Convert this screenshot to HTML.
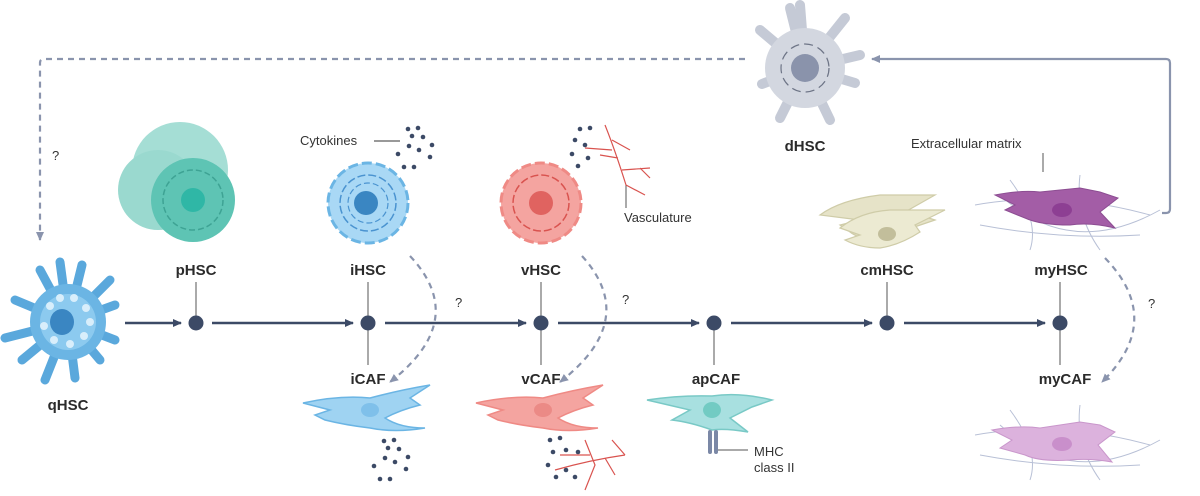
<!DOCTYPE html>
<html><head><meta charset="utf-8"><style>
html,body{margin:0;padding:0;background:#fff;}
svg{display:block;}
text{font-family:"Liberation Sans",sans-serif;}
.b{font-weight:bold;font-size:15px;fill:#2b2b2b;text-anchor:middle;}
.t{font-size:13px;fill:#333;}
</style></head><body>
<svg width="1200" height="496" viewBox="0 0 1200 496" xmlns="http://www.w3.org/2000/svg">
<defs>
<marker id="ah" markerWidth="10" markerHeight="10" refX="8" refY="5" orient="auto" markerUnits="userSpaceOnUse"><path d="M0,1 L9,5 L0,9 Z" fill="#3c4a66"/></marker>
<marker id="ag" markerWidth="10" markerHeight="10" refX="8" refY="5" orient="auto" markerUnits="userSpaceOnUse"><path d="M0,1 L9,5 L0,9 Z" fill="#8a94ad"/></marker>
</defs>

<path d="M745,59 L44,59 Q40,59 40,63 L40,240" fill="none" stroke="#8a94ad" stroke-width="2.2" stroke-dasharray="6,5" marker-end="url(#ag)"/>
<text x="52" y="160" class="t">?</text>
<path d="M1162,213 L1166,213 Q1170,213 1170,209 L1170,63 Q1170,59 1166,59 L872,59" fill="none" stroke="#8a94ad" stroke-width="2.2" marker-end="url(#ag)"/>

<g stroke="#3c4a66" stroke-width="2.5" fill="none" marker-end="url(#ah)">
<line x1="125" y1="323" x2="181" y2="323"/>
<line x1="212" y1="323" x2="353" y2="323"/>
<line x1="385" y1="323" x2="526" y2="323"/>
<line x1="558" y1="323" x2="699" y2="323"/>
<line x1="731" y1="323" x2="872" y2="323"/>
<line x1="904" y1="323" x2="1045" y2="323"/>
</g>
<g stroke="#555" stroke-width="1">
<line x1="196" y1="282" x2="196" y2="316"/>
<line x1="368" y1="282" x2="368" y2="365"/>
<line x1="541" y1="282" x2="541" y2="365"/>
<line x1="714" y1="323" x2="714" y2="365"/>
<line x1="887" y1="282" x2="887" y2="316"/>
<line x1="1060" y1="282" x2="1060" y2="365"/>
</g>
<g fill="#3c4a66">
<circle cx="196" cy="323" r="7.5"/><circle cx="368" cy="323" r="7.5"/><circle cx="541" cy="323" r="7.5"/>
<circle cx="714" cy="323" r="7.5"/><circle cx="887" cy="323" r="7.5"/><circle cx="1060" cy="323" r="7.5"/>
</g>

<g fill="none" stroke="#8a94ad" stroke-width="2.2" stroke-dasharray="6,5" marker-end="url(#ag)">
<path d="M410,256 Q470,320 390,382"/>
<path d="M582,256 Q640,320 560,382"/>
<path d="M1105,258 Q1165,320 1102,382"/>
</g>
<text x="455" y="307" class="t">?</text>
<text x="622" y="304" class="t">?</text>
<text x="1148" y="308" class="t">?</text>

<text x="68" y="410" class="b">qHSC</text>
<text x="196" y="275" class="b">pHSC</text>
<text x="368" y="275" class="b">iHSC</text>
<text x="541" y="275" class="b">vHSC</text>
<text x="805" y="151" class="b">dHSC</text>
<text x="887" y="275" class="b">cmHSC</text>
<text x="1061" y="275" class="b">myHSC</text>
<text x="368" y="384" class="b">iCAF</text>
<text x="541" y="384" class="b">vCAF</text>
<text x="716" y="384" class="b">apCAF</text>
<text x="1065" y="384" class="b">myCAF</text>
<text x="300" y="145" class="t">Cytokines</text>
<line x1="374" y1="141" x2="400" y2="141" stroke="#333"/>
<text x="624" y="222" class="t">Vasculature</text>
<line x1="626" y1="185" x2="626" y2="208" stroke="#555"/>
<text x="911" y="148" class="t">Extracellular matrix</text>
<line x1="1043" y1="153" x2="1043" y2="172" stroke="#555"/>
<text x="754" y="456" class="t">MHC</text>
<text x="754" y="472" class="t">class II</text>
<line x1="718" y1="450" x2="748" y2="450" stroke="#555"/>

<g>
<g stroke="#5aa8dc" stroke-width="9" stroke-linecap="round">
<line x1="68" y1="322" x2="60" y2="262"/><line x1="68" y1="322" x2="82" y2="265"/>
<line x1="68" y1="322" x2="40" y2="270"/><line x1="68" y1="322" x2="110" y2="280"/>
<line x1="68" y1="322" x2="15" y2="300"/><line x1="68" y1="322" x2="115" y2="305"/>
<line x1="68" y1="322" x2="5" y2="338"/><line x1="68" y1="322" x2="115" y2="340"/>
<line x1="68" y1="322" x2="100" y2="360"/><line x1="68" y1="322" x2="75" y2="378"/>
<line x1="68" y1="322" x2="45" y2="380"/><line x1="68" y1="322" x2="22" y2="360"/>
</g>
<circle cx="68" cy="322" r="38" fill="#6bb5e4"/>
<circle cx="68" cy="322" r="28" fill="#8ccaef"/>
<g fill="#d8eefb"><circle cx="50" cy="306" r="4"/><circle cx="60" cy="298" r="4"/><circle cx="74" cy="298" r="4"/><circle cx="86" cy="308" r="4"/><circle cx="90" cy="322" r="4"/><circle cx="84" cy="336" r="4"/><circle cx="70" cy="344" r="4"/><circle cx="54" cy="340" r="4"/><circle cx="44" cy="326" r="4"/></g>
<ellipse cx="62" cy="322" rx="12" ry="13" fill="#3a86c2"/>
</g>

<g>
<circle cx="180" cy="170" r="48" fill="#8fd6cb" opacity="0.8"/>
<circle cx="158" cy="190" r="40" fill="#9ad9cf"/>
<circle cx="193" cy="200" r="42" fill="#5ec4b4"/>
<circle cx="193" cy="200" r="30" fill="none" stroke="#3ea394" stroke-width="1.5" stroke-dasharray="6,3"/>
<circle cx="193" cy="200" r="12" fill="#2fb7a6"/>
</g>

<g>
<circle cx="368" cy="203" r="40" fill="#a9d8f5" stroke="#6bb5e4" stroke-width="3" stroke-dasharray="10,4"/>
<circle cx="368" cy="203" r="28" fill="none" stroke="#4a93d0" stroke-width="1.5" stroke-dasharray="8,3"/>
<circle cx="368" cy="203" r="20" fill="none" stroke="#4a93d0" stroke-width="1.2" stroke-dasharray="6,3"/>
<circle cx="366" cy="203" r="12" fill="#3a86c2"/>
</g>
<g fill="#3c4a66" transform="translate(52,0)">
<circle cx="356" cy="129" r="2.3"/><circle cx="366" cy="128" r="2.3"/><circle cx="360" cy="136" r="2.3"/><circle cx="371" cy="137" r="2.3"/><circle cx="380" cy="145" r="2.3"/><circle cx="357" cy="146" r="2.3"/><circle cx="367" cy="150" r="2.3"/><circle cx="346" cy="154" r="2.3"/><circle cx="378" cy="157" r="2.3"/><circle cx="352" cy="167" r="2.3"/><circle cx="362" cy="167" r="2.3"/>
</g>
<g fill="#3c4a66" transform="translate(28,312)">
<circle cx="356" cy="129" r="2.3"/><circle cx="366" cy="128" r="2.3"/><circle cx="360" cy="136" r="2.3"/><circle cx="371" cy="137" r="2.3"/><circle cx="380" cy="145" r="2.3"/><circle cx="357" cy="146" r="2.3"/><circle cx="367" cy="150" r="2.3"/><circle cx="346" cy="154" r="2.3"/><circle cx="378" cy="157" r="2.3"/><circle cx="352" cy="167" r="2.3"/><circle cx="362" cy="167" r="2.3"/>
</g>

<g>
<circle cx="541" cy="203" r="40" fill="#f4a4a0" stroke="#ef8a85" stroke-width="3" stroke-dasharray="10,4"/>
<circle cx="541" cy="203" r="28" fill="none" stroke="#d9534f" stroke-width="1.5" stroke-dasharray="8,3"/>
<circle cx="541" cy="203" r="12" fill="#e06360"/>
</g>
<g fill="#3c4a66"><circle cx="580" cy="129" r="2.3"/><circle cx="590" cy="128" r="2.3"/><circle cx="575" cy="140" r="2.3"/><circle cx="585" cy="145" r="2.3"/><circle cx="572" cy="154" r="2.3"/><circle cx="588" cy="158" r="2.3"/><circle cx="578" cy="166" r="2.3"/></g>
<path d="M605,125 Q615,150 626,185 M612,140 L630,150 M618,158 L600,155 M622,170 L650,168 M640,168 L650,178 M626,185 L645,195 M585,148 L612,150" stroke="#d9534f" stroke-width="1.2" fill="none"/>
<g fill="#3c4a66"><circle cx="550" cy="440" r="2.3"/><circle cx="560" cy="438" r="2.3"/><circle cx="553" cy="452" r="2.3"/><circle cx="566" cy="450" r="2.3"/><circle cx="578" cy="452" r="2.3"/><circle cx="548" cy="465" r="2.3"/><circle cx="566" cy="470" r="2.3"/><circle cx="556" cy="477" r="2.3"/><circle cx="575" cy="477" r="2.3"/></g>
<path d="M555,470 Q590,460 625,455 M585,440 L595,465 L585,490 M605,458 L615,475 M612,440 L625,455 M560,455 L590,455" stroke="#d9534f" stroke-width="1.2" fill="none"/>

<path d="M303,403 Q340,395 370,398 Q400,390 430,385 L410,398 L420,405 Q400,410 385,418 Q400,428 425,428 Q395,433 370,428 Q345,425 325,420 L315,415 L330,410 Z" fill="#9fd3f2" stroke="#6bb5e4" stroke-width="1.5"/>
<ellipse cx="370" cy="410" rx="9" ry="7" fill="#7fc0ea"/>
<path d="M476,403 Q513,395 543,398 Q573,390 603,385 L583,398 L593,405 Q573,410 558,418 Q573,428 598,428 Q568,433 543,428 Q518,425 498,420 L488,415 L503,410 Z" fill="#f4a4a0" stroke="#ef8a85" stroke-width="1.5"/>
<ellipse cx="543" cy="410" rx="9" ry="7" fill="#eb8a86"/>
<path d="M647,400 Q680,395 712,396 Q740,392 772,400 L752,407 Q742,412 730,418 L748,432 Q725,428 712,430 Q690,422 672,420 L690,410 Z" fill="#a8e0e0" stroke="#79c9c6" stroke-width="1.5"/>
<ellipse cx="712" cy="410" rx="9" ry="8" fill="#72cbc3"/>
<rect x="708" y="430" width="4" height="24" rx="2" fill="#7b88a6"/><rect x="714" y="430" width="4" height="24" rx="2" fill="#7b88a6"/>

<g>
<g stroke="#c5cad6" stroke-width="10" stroke-linecap="round">
<line x1="805" y1="68" x2="790" y2="8"/><line x1="805" y1="68" x2="800" y2="5"/><line x1="805" y1="68" x2="760" y2="30"/>
<line x1="805" y1="68" x2="860" y2="55"/><line x1="805" y1="68" x2="845" y2="18"/><line x1="805" y1="68" x2="830" y2="120"/>
<line x1="805" y1="68" x2="762" y2="84"/><line x1="805" y1="68" x2="780" y2="118"/><line x1="805" y1="68" x2="855" y2="83"/>
</g>
<circle cx="805" cy="68" r="40" fill="#d3d7e0"/>
<circle cx="805" cy="68" r="24" fill="none" stroke="#6d7486" stroke-width="1.2" stroke-dasharray="9,5"/>
<circle cx="805" cy="68" r="14" fill="#8a93ab"/>
</g>

<path d="M820,215 Q840,200 880,195 L935,195 L905,212 Q920,215 935,220 Q900,232 880,238 Q860,240 850,232 L840,225 L860,220 Z" fill="#e6e3c8" stroke="#cfcca8" stroke-width="1.2"/>
<path d="M840,228 Q860,212 890,210 L945,210 L915,225 L920,232 Q900,245 880,248 Q860,248 845,240 L860,235 Z" fill="#ecead2" stroke="#cfcca8" stroke-width="1.2"/>
<ellipse cx="887" cy="234" rx="9" ry="7" fill="#c2be9b"/>

<g stroke="#b8c0d6" stroke-width="1" fill="none">
<path d="M975,205 Q1060,190 1150,215"/><path d="M980,225 Q1060,240 1140,235"/><path d="M1010,180 Q1040,220 1030,250"/><path d="M1080,175 Q1075,215 1100,250"/><path d="M1000,195 Q1070,260 1160,210"/>
</g>
<path d="M995,195 Q1020,190 1040,192 L1080,188 L1100,192 L1118,198 L1100,212 L1115,228 Q1090,222 1070,225 Q1040,225 1025,218 L1005,210 L1015,205 Z" fill="#a35da6" stroke="#8c4d92" stroke-width="1"/>
<ellipse cx="1062" cy="210" rx="10" ry="7" fill="#8d3f93"/>

<g stroke="#b8c0d6" stroke-width="1" fill="none">
<path d="M975,435 Q1060,420 1150,445"/><path d="M980,455 Q1060,470 1140,465"/><path d="M1010,410 Q1040,450 1030,480"/><path d="M1080,405 Q1075,445 1100,480"/><path d="M1000,425 Q1070,490 1160,440"/>
</g>
<path d="M992,430 Q1020,425 1040,428 L1080,422 L1100,425 L1115,432 L1098,445 L1112,462 Q1090,458 1070,460 Q1040,462 1025,455 L1000,448 L1012,440 Z" fill="#dcb2dd" stroke="#c996cb" stroke-width="1"/>
<ellipse cx="1062" cy="444" rx="10" ry="7" fill="#c98fcb"/>
</svg>
</body></html>
